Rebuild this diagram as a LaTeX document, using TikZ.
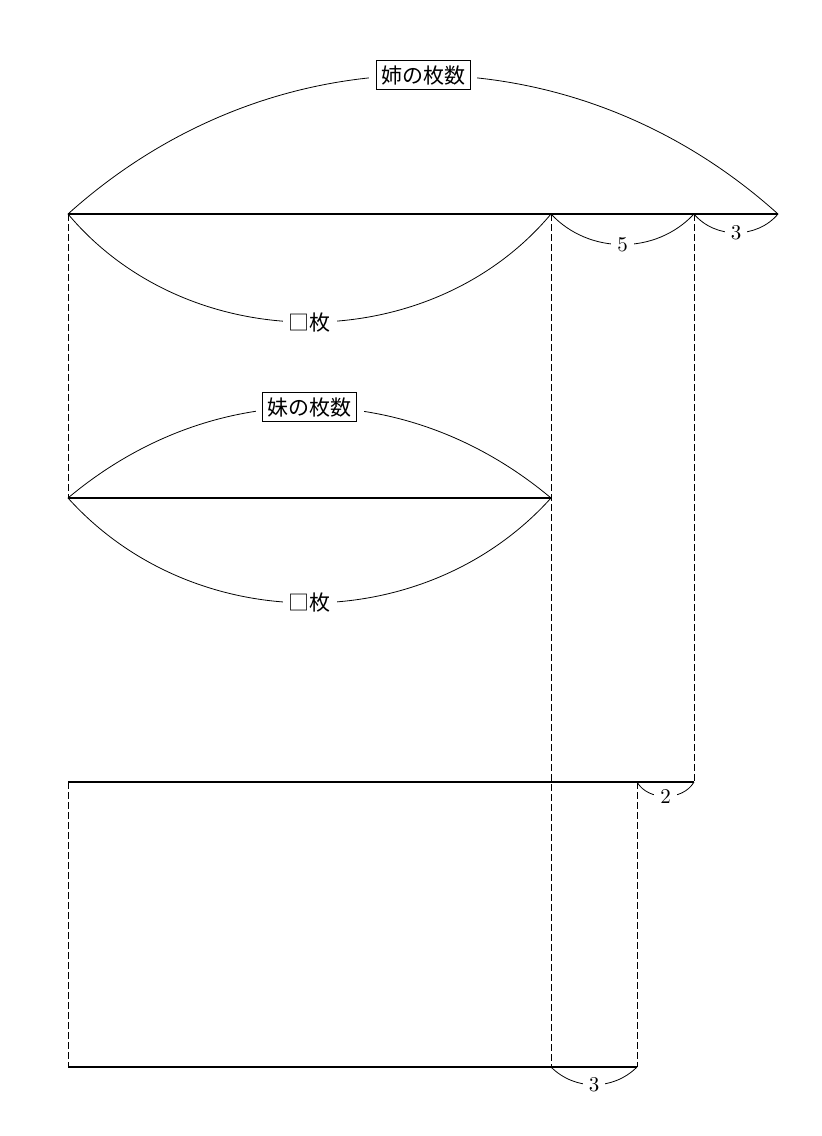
\documentclass[tikz,border=0pt]{standalone}
\usepackage{fontspec}
\newfontfamily\jp{Noto Sans CJK JP}
\begin{document}
\begin{tikzpicture}[x=0.5pt, y=0.5pt,
  every node/.style={font=\fontsize{10.5}{12}\selectfont},
  bar/.style={line width=1.2pt},
  guide/.style={dash pattern=on 3.5pt off 1.5pt, line width=0.4pt},
  brace/.style={line width=0.4pt},
  lbl/.style={fill=white, inner sep=3pt},
  namebox/.style={draw, fill=white, inner sep=2.5pt, line width=0.5pt,
    preaction={draw=white, line width=7pt}}]
\useasboundingbox (0,0) rectangle (822,-1136);
% points on the bars
\coordinate (a0) at (68,-214);
\coordinate (a1) at (551,-214);
\coordinate (a2) at (694,-214);
\coordinate (a3) at (778,-214);
\coordinate (b0) at (68,-498);
\coordinate (b1) at (551,-498);
\coordinate (c0) at (68,-782);
\coordinate (c1) at (637,-782);
\coordinate (c2) at (694,-782);
\coordinate (d0) at (68,-1067);
\coordinate (d1) at (551,-1067);
\coordinate (d2) at (637,-1067);
% bars
\draw[bar] (a0) -- (a3);
\draw[bar] (b0) -- (b1);
\draw[bar] (c0) -- (c2);
\draw[bar] (d0) -- (d2);
% guide lines
\draw[guide] (a0) -- (b0);
\draw[guide] (c0) -- (d0);
\draw[guide] (a1) -- (d1);
\draw[guide] (a2) -- (c2);
\draw[guide] (c1) -- (d2);
% braces
\draw[brace] (a0) to[bend left=42] node[namebox] {\jp 姉の枚数} (a3);
\draw[brace] (a0) to[bend right=50] node[lbl] {\jp □枚} (a1);
\draw[brace] (a1) to[bend right=47] node[lbl] {5} (a2);
\draw[brace] (a2) to[bend right=50] node[lbl] {3} (a3);
\draw[brace] (b0) to[bend left=40] node[namebox] {\jp 妹の枚数} (b1);
\draw[brace] (b0) to[bend right=48] node[lbl] {\jp □枚} (b1);
\draw[brace] (c1) to[bend right=60] node[lbl] {2} (c2);
\draw[brace] (d1) to[bend right=45] node[lbl] {3} (d2);
\end{tikzpicture}
\end{document}
